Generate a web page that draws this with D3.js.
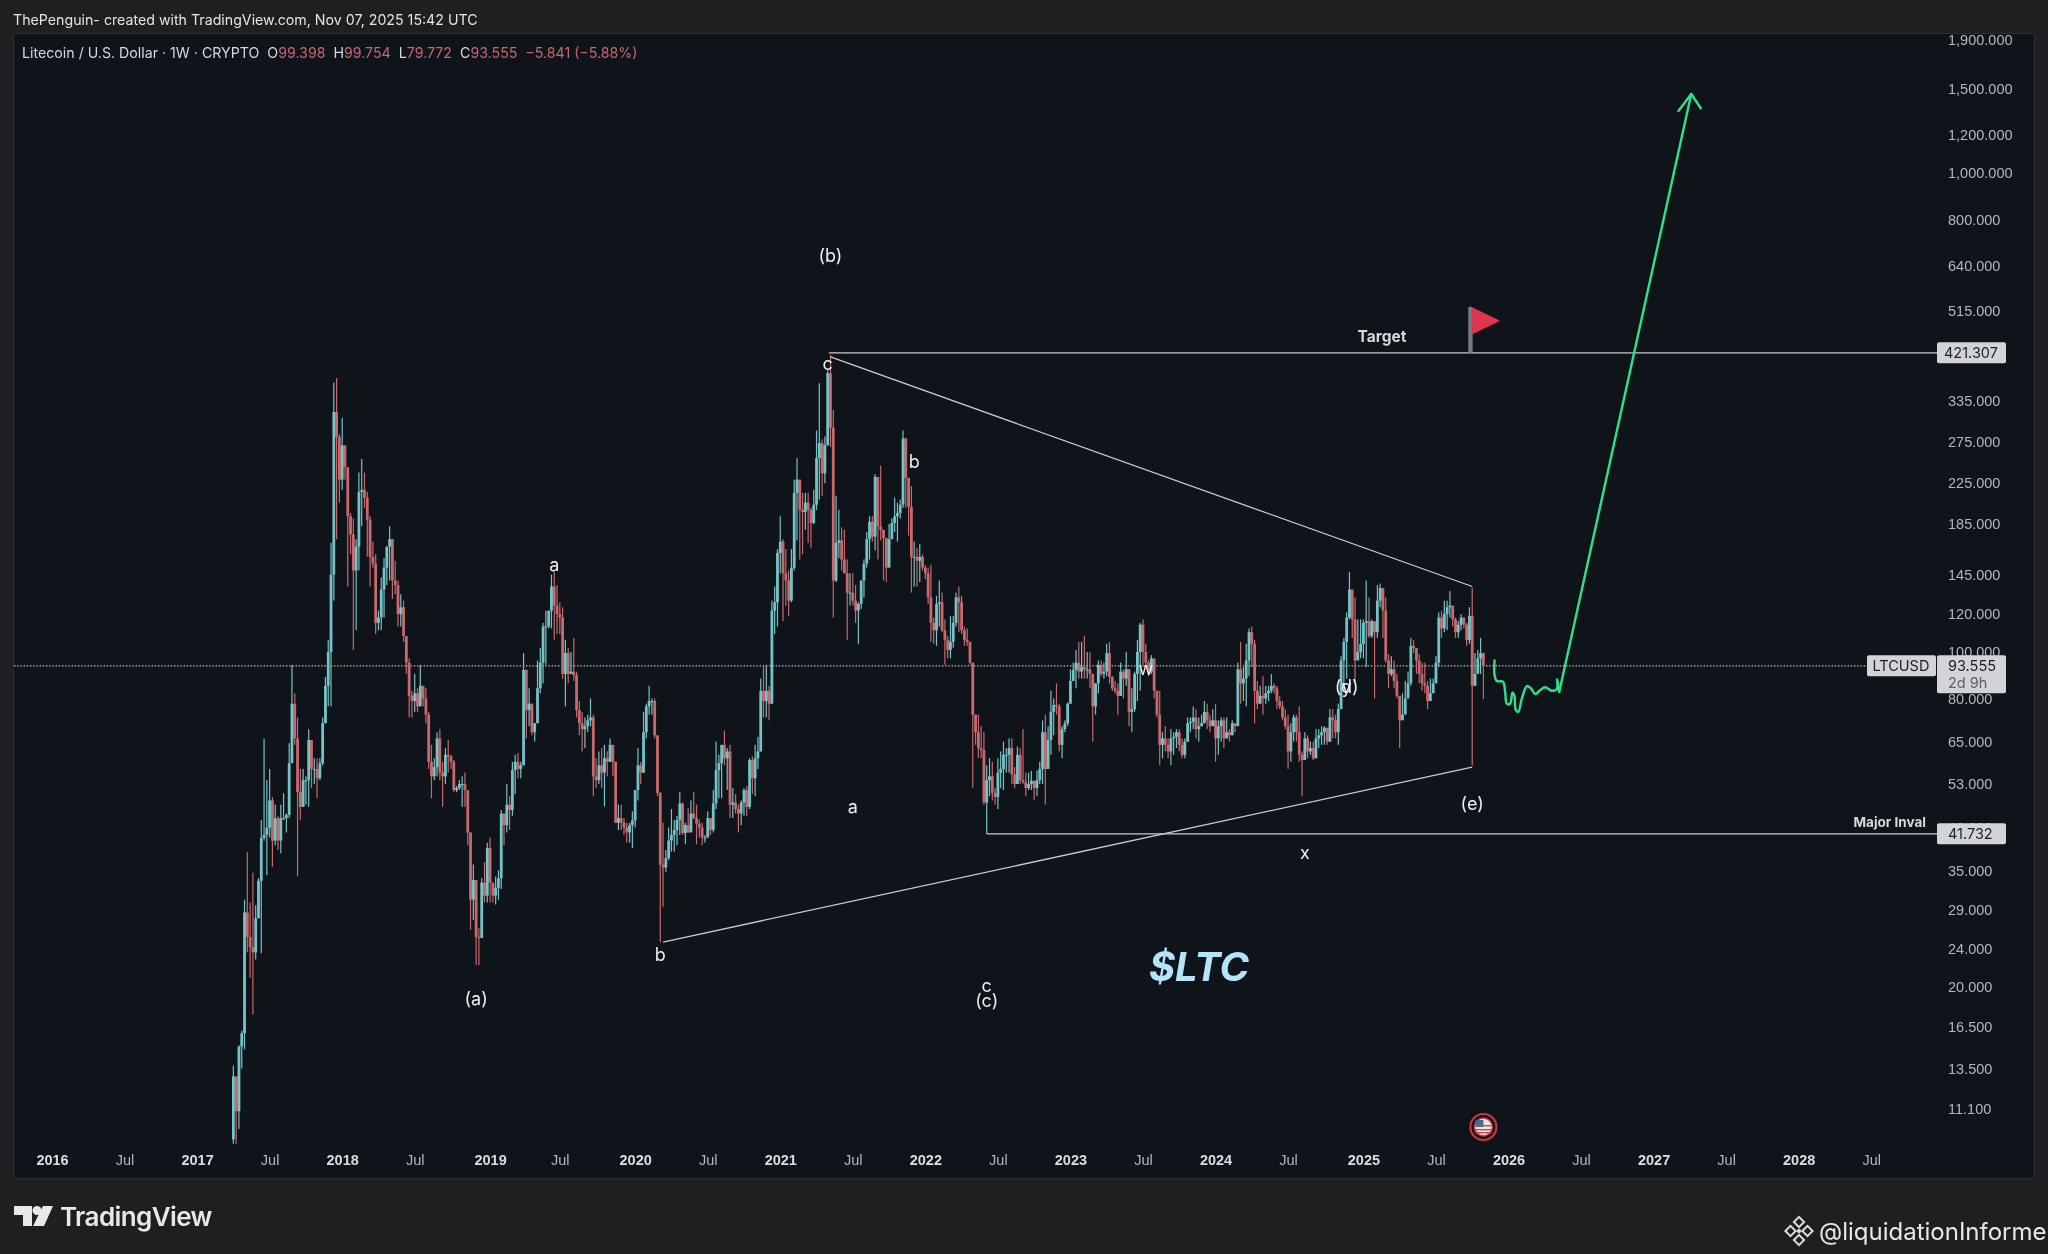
<!DOCTYPE html>
<html>
<head>
<meta charset="utf-8">
<script src="https://cdn.jsdelivr.net/npm/d3@7/dist/d3.min.js"></script>
<style>
  html, body { margin: 0; padding: 0; background: #1f1f1f; }
  svg { display: block; font-family: Inter, "Liberation Sans", sans-serif; }
  .yaxis text { fill: #b4b6bb; font-size: 14.5px; text-anchor: start; }
  .xaxis text { font-size: 14.5px; }
  .wave { fill: #eceef0; font-size: 18px; text-anchor: middle; dominant-baseline: middle; }
  .bar { mix-blend-mode: screen; }
</style>
</head>
<body>
<svg id="chart" width="2048" height="1254"></svg>
<script>
// weekly candles, one entry per week starting at firstWeek
var firstWeek = new Date(Date.UTC(2017, 3, 3));

var highs = [
  13.7,12.7,15.1,16.2,30.4,38.2,30,34.6,29.6,33.7,
  44.6,66,54,57,49.8,48,45.5,48,50.7,46,
  64.5,94,82,73,57,57,55,69,65,60,
  60,60,73,88.7,106,169,365,373,285,308,
  270,243,195,190,172,237,253,237,216,192,
  170,160,122,143,157,166,183,172,155,141,
  132,128,108,97,83,90,84,94,84,84,
  75,64,60,68,69,59,63,65.5,61,59.5,
  52.5,54,55,56,51,42,36,33.4,26.5,33.7,
  36.4,40,41,33,34,35,46.8,46,53,50,
  59,61,61.5,59,99.5,92,84,78,71,96,
  102,115,122,122,145,147,138,127,124,106,
  102,100,107,91,79,75,73,74,80,74,
  60,62,63,64,62,66,64,59,48,48,
  45,44,44,46.5,51.5,63,59,75,78,85,
  80,80,64,51,44,38.6,43,47,44.6,45.5,
  51,48.5,44,47.2,49,51,48,44.7,44,41.5,
  46.5,45,51.5,65,61,64,68.5,63,64,52,
  50.5,48,49,52,52.5,60,60.5,64,66.5,88,
  94,94,85,128,137,164,192,172,164,148,
  164,229,254,229,215,215,215,200,218,290,
  364,278,282,388,417,320,212,198,182,180,
  156,146,146,138,127,141,156,178,192,192,
  235,232,245,175,172,185,190,210,205,208,
  290,280,231,222,170,165,168,160,152,150,
  152,118,131,141,133,117,108,119,119,133,
  137,131,113,112,105,95,74,74,70,68,
  58,60,59,52,60,62,65,63,66,66,
  57.5,63.5,63,69,56,56,56.5,54,56.5,59,
  72,74,70,83,80,86,78,70,72,78.5,
  92,95,101,105,105,108,100,100,90,86,
  96,96,95,104,105,89,87,86,95,92,
  100,92,84,91,106,115,117,104,96,98.5,
  95,83,83,68,70,66,69,68,69,69,
  66,66,73,73,77,76,73,74,79,78,
  74,76,78,72,73,73,73,69,72,71,
  95,105,93,104,112,113,106,87,85,89,
  85,85,90,86,85,81,79,76,74,71,
  74,74,77,62,68,67,65,65,69,69,
  70,70,69,76,76,74,78,98,107,121,
  147,135,130,117,117,117,141,130,117,114,
  138,139,130,130,99,98,96,90,80,82,
  87,91,107,106,102,99,95,95,87,88,
  88,98,121,122,128,128,134,124,118,116,
  120,118,115,124,136,99.5,101,107,99.754
];

var lows = [
  9.4,9.3,10.1,13.5,14.8,23.6,20.9,17.5,22.8,27.8,
  23.5,40.4,34.2,41,35.6,39.5,38.6,38,44.6,42,
  45,60,64,34,44.6,47.5,48,47.5,52,53,
  49.5,54,58,71,77,77,128,172,205,218,
  229,137,160,101,111,148,183,200,158,137,
  150,109,111,111,118,138,141,129,132,113,
  113,105,90,73,73,75,75,78,77,71,
  57,49.5,54,55,54,47.5,53,56,57,51,
  51,51.5,47.5,47.5,39.5,26.3,27.6,22.2,22.2,25.3,
  30,30,30,30,29.7,30.4,32,39.5,42,42.5,
  45.5,50.5,54.5,54.5,58,66,70,67,65,71,
  82,86,94,112,112,106,109,109,88,77,
  86,90,87,73,67,62,63,68,70,50,
  52,53,52,47.6,55,59,55,44,42.5,42.5,
  41.5,40,40,39,43,49,53,56,66,74,
  74,66,50,24.8,29.4,34.7,36.8,38.3,38.3,39.5,
  41.5,41.5,39.7,42,42.3,44.8,39.7,41,39.5,40,
  41,41.5,42,47,49.5,49.5,58,51.5,45,45,
  46,42,43.5,45.5,45.5,47,50.5,50,57,62,
  73,73,72,78,109,113,146,116,125,119,
  127,148,171,156,160,180,169,165,185,198,
  208,212,225,270,268,118,140,157,148,146,
  106,125,125,115,104,123,130,150,156,170,
  163,156,171,141,140,157,172,178,170,190,
  200,200,175,133,137,137,140,148,142,126,
  105,104,103,113,110,94,97,97,102,113,
  110,109,103,103,94,52,64,60,60,48,
  41.7,50,49,48,47,52,51.5,56,56,53,
  52,53,53,53,50,51.5,51.5,49,50,53,
  53,48,58,61,67,74,62,60,68,70,
  78,88,84,88,88,88,88,84,65,74,
  82,89,88,89,86,83,82,74,81,80,
  85,70,68,75,79,83,93,93,89,90,
  80,73,58,60,62,60,58,61,63,62,
  60,60,65,68,69,66,65,70,71,69,
  68,71,59,61,65,63,66,65,68,68,
  71,78,79,77,89,93,71,76,78,74,
  78,79,82,82,76,76,72,69,57,59,
  65,65,59,50,60,60,61,59.5,60,63,
  64,64,64,65,66,66,64,77,86,88,
  117,107,86,97,97,97,93,107,107,80,
  107,124,107,95,84,89,84,80,63,73,
  77,81,85,99.5,90,86,83,82,76,79,
  83,87,93,107,110,111,118,113,107,107,
  111,112,103,104,58,85,90,90,79.772
];

var closes = [
  13,11,15,16,28.6,25.4,24.2,23.6,27.8,33.3,
  40.9,41.5,43,49,40.4,45,40.4,45,45,45.7,
  58.6,78,66,51,47.5,54,54,65.5,57,57,
  54.5,58.6,71,85,100,145,317,281,229,270,
  243,192,176,148,166,216,218,210,189,158,
  153,115,118,135,150,166,172,141,138,120,
  124,108,95,81,79,82,77,85,80,74,
  59,55,57.5,66,56,55,61,60.5,59,51.5,
  52,53,53,51.5,42,30.4,33.4,25.4,25.3,33,
  31,39,33,31,32.2,33.7,46,43.5,48,46.8,
  56.7,59,57,58,91.7,75.6,78,68,71,84,
  95,113,113,122,137,125,120,118,90,99.5,
  90,91,89.5,75.6,71,69,70,72,73,55,
  54,58,56,60,59,64,59,44,45,44,
  43,42,43.5,44.5,51.5,58,56,68,77,79,
  79,67,50.8,36,35.5,37.1,40.4,41.5,42.5,44.6,
  48.3,41.9,43.5,42,46,45,43.8,43,41,41,
  45,42.5,48.3,56.7,58.6,64,60,62,48,48.5,
  47,46,48.5,51.5,47.5,59.5,54.5,60,62,83,
  79,83,78,122,127,161,170,146,141,128,
  150,215,229,198,196,205,198,186,203,254,
  273,236,270,382,294,141,169,171,156,146,
  133,133,128,122,126,141,153,172,187,174,
  232,183,180,173,150,172,186,192,195,203,
  279,231,201,158,158,155,158,150,146,130,
  115,111,126,127,111,106,101,105,115,130,
  127,111,106,105,95,74,68,63,62.4,48.5,
  54,55,50.8,49.8,56,57,61,61,63,55.5,
  53,61,54,53.5,52,53,53.8,52,54,57,
  68,57,65.5,75,77.5,77,64,69,71,78,
  87,91.7,95,91,93,92,92,90,77,86,
  94,90,91,99.5,88.7,84,83,81,91,88,
  92,75,76,90,100,114,100,95,91,97,
  83,74,64,66,64,62,66,66.5,68,64,
  61,65,71,71.5,73,69,70,71,75,72,
  70,72,66,70,72,66,68,67,71,70,
  92,86,88,96,110,104,83,78,81,80,
  82,83,85,84,79,77,73,70,62,68,
  73,68,61,59.5,66,62,63,60,66,67,
  68,69.5,65,73,72,68,76,96,105,118,
  135,117,96,100,104,115,116,108,116,110,
  128,136,122,96,90,92,87,81,72,74,
  80,86,103,102,96,90,86,85,79,82,
  86,95,118,112,120,124,125,117,110,114,
  118,114,106,119,85,90,97,99.4,93.555
];

var lastPrice = 93.555, targetPrice = 421.307, invalPrice = 41.732;

// price scale tick labels
var priceTicks = [1900,1500,1200,1000,800,640,515,335,275,225,185,145,120,100,80,65,53,43,35,29,24,20,16.5,13.5,11.1];

// first weekly bar of each half year
var timeTicks = ["2016-01-04","2016-07-04","2017-01-02","2017-07-03","2018-01-01","2018-07-02","2019-01-07","2019-07-01",
  "2020-01-06","2020-07-06","2021-01-04","2021-07-05","2022-01-03","2022-07-04","2023-01-02","2023-07-03",
  "2024-01-01","2024-07-01","2025-01-06","2025-07-07","2026-01-05","2026-07-06","2027-01-04","2027-07-05",
  "2028-01-03","2028-07-03"];

// drawn trend lines as [bar number, price]
var upperLine = [[214, 413], [444, 137]];
var lowerLine = [[154, 24.8], [444, 57.5]];

// hand drawn green path after the last bar, [bar number, price]
var wiggleBars =   [452,452,452.8,455,455.8,456.4,457.6,458.4,459.1,459.6,460.5,461.8,463.6,465,466.6,468.4,470.1,472.5,474.3,474.5,475.2];
var wigglePrices = [96,89.5,87,86.7,82.6,78,78,82.2,81,75.7,75,80,84.9,84,81.7,83.3,84.4,83,83.6,87.7,82.6];
var arrowTip = [522.5, 1462], arrowLeft = [517.9, 1347], arrowRight = [525.9, 1365];

var waveLabels = ["(b)","c","b","a","a","w","(d)","y","(e)","x","c","(c)","(a)","b"];
var waveBars =   [214,213,244,115,222,327,399,399,444,384,270,270,87,153];
var wavePrices = [668,398,248,151,47.3,91.5,84,84.2,47.8,37.9,20,18.6,18.8,23.2];

var svg = d3.select("#chart");
var WEEK = 7 * 24 * 3600 * 1000;

var x = d3.scaleUtc()
    .domain([new Date(Date.UTC(2016, 0, 4)), new Date(Date.UTC(2026, 0, 5))])
    .range([52, 1508.5]);
var y = d3.scaleLog().domain([10, 1000]).range([1131, 173]);

function barX(i) { return x(new Date(firstWeek.getTime() + i * WEEK)); }

// background and pane
svg.append("rect").attr("width", 2048).attr("height", 1254).attr("fill", "#1f1f1f");
svg.append("rect").attr("x", 13.5).attr("y", 33.5).attr("width", 2021).attr("height", 1145)
    .attr("fill", "#0f131a").attr("stroke", "#2b2d31");

svg.append("defs").append("clipPath").attr("id", "pane")
  .append("rect").attr("x", 14).attr("y", 34).attr("width", 1923).attr("height", 1110);

// header
svg.append("text").attr("x", 13).attr("y", 25).attr("fill", "#e4e4e4").attr("font-size", 14.2)
    .text("ThePenguin- created with TradingView.com, Nov 07, 2025 15:42 UTC");

var legend = svg.append("text").attr("x", 22).attr("y", 58).attr("font-size", 14.2).attr("fill", "#d6d8dc")
    .attr("xml:space", "preserve");
var legendParts = [["Litecoin / U.S. Dollar · 1W · CRYPTO  O", 0], ["99.398", 1], ["  H", 0], ["99.754", 1], ["  L", 0],
  ["79.772", 1], ["  C", 0], ["93.555", 1], ["  −5.841 (−5.88%)", 1]];
legendParts.forEach(function(p) {
  legend.append("tspan").attr("fill", p[1] ? "#c9686c" : "#d6d8dc").text(p[0]);
});

// price line behind the bars
svg.append("line").attr("x1", 14).attr("x2", 1867).attr("y1", y(lastPrice)).attr("y2", y(lastPrice))
    .attr("stroke", "#c4c6ca").attr("stroke-width", 1.2).attr("stroke-dasharray", "1.4 1.8");

// candles
var UP = "#74c3c6", DOWN = "#c8696d";
var candles = closes.map(function(c, i) {
  return {i: i, o: i ? closes[i - 1] : 9.6, h: highs[i], l: lows[i], c: c};
});

var bars = svg.append("g").attr("clip-path", "url(#pane)").style("isolation", "isolate")
  .selectAll("g").data(candles).enter().append("g").attr("class", "bar")
    .attr("fill", function(d) { return d.c >= d.o ? UP : DOWN; });
bars.append("rect")
    .attr("x", function(d) { return barX(d.i) - 0.6; })
    .attr("width", 1.2)
    .attr("y", function(d) { return y(d.h); })
    .attr("height", function(d) { return Math.max(1, y(d.l) - y(d.h)); });
bars.append("rect")
    .attr("x", function(d) { return barX(d.i) - 1.4; })
    .attr("width", 2.8)
    .attr("y", function(d) { return y(Math.max(d.o, d.c)); })
    .attr("height", function(d) { return Math.max(1, Math.abs(y(d.o) - y(d.c))); });

// horizontal and trend lines
var LINE = "#c9cbcf";
svg.append("line").attr("x1", barX(213.4)).attr("x2", 1937).attr("y1", y(targetPrice)).attr("y2", y(targetPrice))
    .attr("stroke", LINE).attr("stroke-width", 1.3);
svg.append("line").attr("x1", barX(270)).attr("x2", 1937).attr("y1", y(invalPrice)).attr("y2", y(invalPrice))
    .attr("stroke", LINE).attr("stroke-width", 1.3);
var trend = d3.line().x(function(d) { return barX(d[0]); }).y(function(d) { return y(d[1]); });
[upperLine, lowerLine].forEach(function(l) {
  svg.append("path").attr("d", trend(l)).attr("fill", "none").attr("stroke", LINE).attr("stroke-width", 1.3);
});

// green projection
var GREEN = "#2ee28c";
var wiggle = d3.line().curve(d3.curveCatmullRom.alpha(0.5))
    .x(function(d) { return barX(d[0]); }).y(function(d) { return y(d[1]); });
var wigglePts = wiggleBars.map(function(b, i) { return [b, wigglePrices[i]]; });
svg.append("path").attr("d", wiggle(wigglePts)).attr("fill", "none").attr("stroke", GREEN)
    .attr("stroke-width", 2.4).attr("stroke-linecap", "round");
svg.append("path").attr("d", trend([wigglePts[wigglePts.length - 1], arrowTip])).attr("fill", "none")
    .attr("stroke", GREEN).attr("stroke-width", 2.4).attr("stroke-linecap", "round");
svg.append("path").attr("d", trend([arrowLeft, arrowTip, arrowRight])).attr("fill", "none")
    .attr("stroke", GREEN).attr("stroke-width", 2.4).attr("stroke-linecap", "round").attr("stroke-linejoin", "round");

// flag on the target line
var fx = barX(444) - 2, fy = y(targetPrice);
svg.append("rect").attr("x", fx - 2).attr("y", fy - 46).attr("width", 4.4).attr("height", 46).attr("rx", 1.5).attr("fill", "#747a80");
svg.append("path").attr("d", "M" + (fx + 2) + "," + (fy - 45) + "L" + (fx + 29) + "," + (fy - 32) + "L" + (fx + 2) + "," + (fy - 19) + "Z")
    .attr("fill", "#df3550").attr("stroke", "#df3550").attr("stroke-linejoin", "round");

svg.append("text").attr("x", 1382).attr("y", 338).attr("text-anchor", "middle").attr("dominant-baseline", "middle")
    .attr("font-weight", 700).attr("font-size", 15.5).attr("fill", "#d6d8da").text("Target");
svg.append("text").attr("x", 1926).attr("y", 827).attr("text-anchor", "end")
    .attr("font-weight", 700).attr("font-size", 13.5).attr("fill", "#d6d8da").text("Major Inval");

// wave labels
svg.selectAll(".wave").data(waveLabels).enter().append("text").attr("class", "wave")
    .attr("x", function(d, i) { return barX(waveBars[i]); })
    .attr("y", function(d, i) { return y(wavePrices[i]); })
    .text(function(d) { return d; });

svg.append("text").attr("x", 1199).attr("y", 970).attr("text-anchor", "middle").attr("dominant-baseline", "middle")
    .attr("font-size", 40).attr("font-weight", 700).attr("font-style", "italic").attr("fill", "#b4e4fa").text("$LTC");

// right axis
var yAxis = d3.axisRight(y).tickValues(priceTicks).tickSize(0).tickPadding(0).tickFormat(d3.format(",.3f"));
var yg = svg.append("g").attr("class", "yaxis").attr("transform", "translate(1948,0)").call(yAxis);
yg.select(".domain").remove();

// bottom axis
var monthFmt = d3.utcFormat("%b"), yearFmt = d3.utcFormat("%Y");
var xAxis = d3.axisBottom(x).tickValues(timeTicks.map(function(t) { return new Date(t + "T00:00:00Z"); }))
    .tickSize(0).tickPadding(0)
    .tickFormat(function(d) { return d.getUTCMonth() === 0 ? yearFmt(d) : monthFmt(d); });
var xg = svg.append("g").attr("class", "xaxis").attr("transform", "translate(0,1155)").call(xAxis);
xg.select(".domain").remove();
xg.selectAll("text")
    .attr("fill", function(d) { return d.getUTCMonth() === 0 ? "#dcdde0" : "#b4b6bb"; })
    .attr("font-weight", function(d) { return d.getUTCMonth() === 0 ? 700 : 400; });

// price tags
function priceTag(px, py, w, h, lines) {
  svg.append("rect").attr("x", px).attr("y", py).attr("width", w).attr("height", h).attr("rx", 2).attr("fill", "#d2d4d7");
  lines.forEach(function(l, i) {
    svg.append("text").attr("x", px + l[2]).attr("y", py + 15.5 + i * 17).attr("font-size", 14.5)
        .attr("fill", l[1]).text(l[0]);
  });
}
priceTag(1867, y(lastPrice) - 10.5, 69, 21, [["LTCUSD", "#1c1f26", 5.5]]);
priceTag(1937, y(lastPrice) - 10.5, 69, 38, [[d3.format(".3f")(lastPrice), "#1c1f26", 11], ["2d 9h", "#5d6066", 11]]);
priceTag(1937, y(targetPrice) - 10.5, 69, 21, [[d3.format(".3f")(targetPrice), "#1c1f26", 7]]);
priceTag(1937, y(invalPrice) - 10.5, 69, 21, [[d3.format(".3f")(invalPrice), "#1c1f26", 11]]);

// event badge on the time axis
var badge = svg.append("g").attr("transform", "translate(" + barX(448) + ",1127)");
badge.append("circle").attr("r", 13).attr("fill", "#0f131a").attr("stroke", "#d2343f").attr("stroke-width", 2.2);
badge.append("circle").attr("r", 9).attr("fill", "#e9e6e2").attr("stroke", "#d2343f").attr("stroke-width", 1.4);
badge.append("rect").attr("x", -8).attr("y", -7).attr("width", 8).attr("height", 7).attr("fill", "#3b6f96");
[-2, 2, 5].forEach(function(s) {
  badge.append("rect").attr("x", -8).attr("y", s).attr("width", 16).attr("height", 1.4).attr("fill", "#c9464e");
});

// TradingView logo
var logo = svg.append("g").attr("fill", "#e8e8e8");
logo.append("path").attr("d", "M14,1206H32V1226H23V1215H14Z");
logo.append("circle").attr("cx", 37).attr("cy", 1210.5).attr("r", 4.5);
logo.append("path").attr("d", "M43,1206H53L44,1226H33Z");
svg.append("text").attr("x", 60).attr("y", 1226).attr("font-size", 26).attr("font-weight", 600)
    .attr("fill", "#e8e8e8").attr("letter-spacing", -0.6).text("TradingView");

// watermark
var mark = svg.append("g").attr("transform", "translate(1799,1231)").attr("fill", "none").attr("stroke", "#dcdcdc").attr("stroke-width", 2);
[[0, -9], [-8.5, 0], [8.5, 0], [0, 9]].forEach(function(p) {
  mark.append("rect").attr("x", p[0] - 3.6).attr("y", p[1] - 3.6).attr("width", 7.2).attr("height", 7.2)
      .attr("transform", "rotate(45 " + p[0] + " " + p[1] + ")");
});
mark.append("rect").attr("x", -2).attr("y", -2).attr("width", 4).attr("height", 4).attr("fill", "#dcdcdc").attr("stroke", "none")
    .attr("transform", "rotate(45)");
svg.append("text").attr("x", 1819).attr("y", 1240).attr("font-size", 24).attr("fill", "#e8e8e8").text("@liquidationInformer");
</script>
</body>
</html>
